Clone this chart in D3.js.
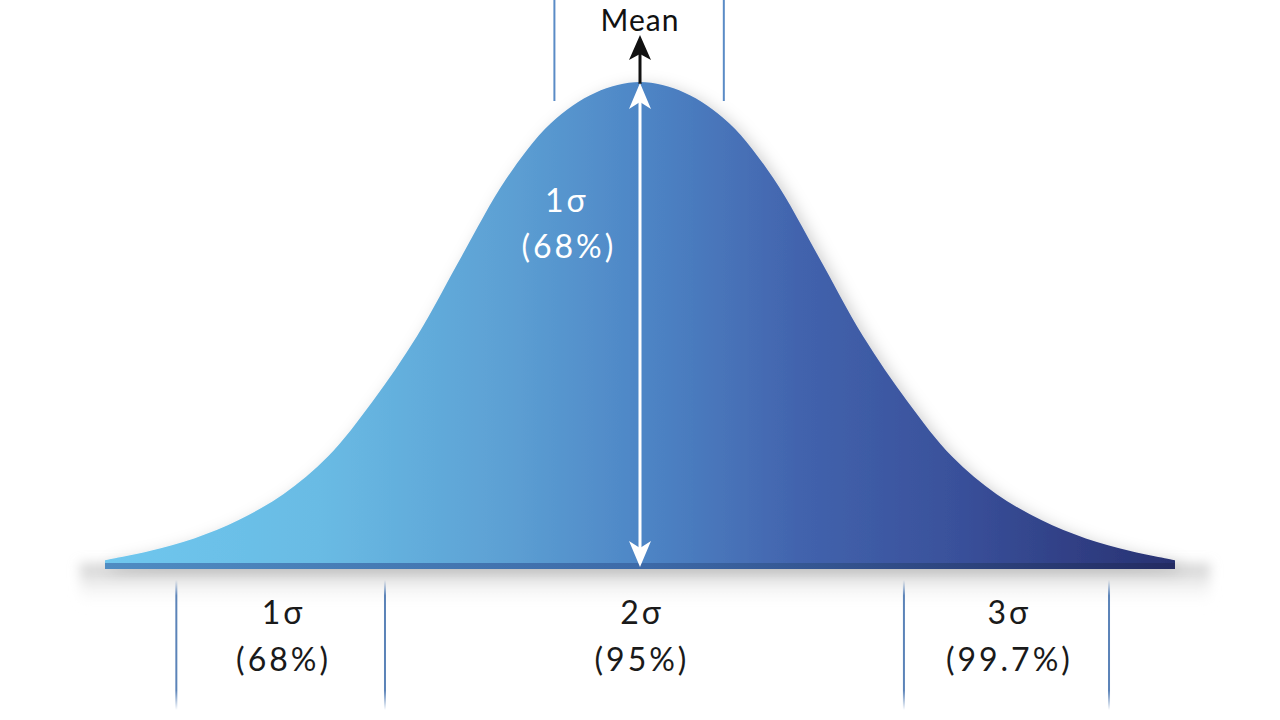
<!DOCTYPE html>
<html>
  <head>
    <title>Normal distribution</title>
    <style>
      body {
        margin: 0;
        padding: 0;
        overflow: hidden;
        width: 1280px;
        height: 720px;
        background: #fff;
      }
      svg {
        display: block;
      }
      text {
        font-family: 'Lato', 'Open Sans', sans-serif;
      }
    </style>
    <script src="https://cdn.jsdelivr.net/npm/d3@7/dist/d3.min.js"></script>
  </head>
  <body>
    <svg width="1280" height="720"></svg>
    <script>
      // Curve samples (x in sigma units, height relative to peak)
      const sigmaX = [-3, -2.75, -2.5, -2.25, -2, -1.75, -1.5, -1.25, -1, -0.75, -0.5, -0.25,
        0, 0.25, 0.5, 0.75, 1, 1.25, 1.5, 1.75, 2, 2.25, 2.5, 2.75, 3];
      const density = [0.012, 0.031, 0.057, 0.095, 0.148, 0.226, 0.34, 0.475, 0.64, 0.8, 0.915, 0.978,
        1, 0.978, 0.915, 0.8, 0.64, 0.475, 0.34, 0.226, 0.148, 0.095, 0.057, 0.031, 0.012];

      // Marker positions (sigma units)
      const meanMarks = [-0.48, 0.47];
      const bandEdges = [-2.6, -1.43, 1.48, 2.63];

      // Labels
      const bottomNames = ['1σ', '2σ', '3σ'];
      const bottomPcts = ['(68%)', '(95%)', '(99.7%)'];
      const bottomPos = [-2.01, 0, 2.06];
      const innerName = '1σ';
      const innerPct = '(68%)';
      const innerPos = -0.41;
      const meanLabel = 'Mean';

      const svg = d3.select('svg');
      const x = d3.scaleLinear().domain([-3, 3]).range([105, 1175]);
      const y = d3.scaleLinear().domain([0, 1]).range([566, 82]);

      const defs = svg.append('defs');

      // Colour ramp: light sky blue to navy
      const grad = defs.append('linearGradient')
        .attr('id', 'fillGrad')
        .attr('gradientUnits', 'userSpaceOnUse')
        .attr('x1', x(-3)).attr('x2', x(3)).attr('y1', 0).attr('y2', 0);
      [[0, '#6fc7ee'], [0.2, '#69bbe4'], [0.38, '#5c9fd3'], [0.5, '#4e86c6'],
       [0.65, '#4263ad'], [0.8, '#39509a'], [0.92, '#2f3d82'], [1, '#283271']]
        .forEach(([o, c]) => grad.append('stop').attr('offset', o).attr('stop-color', c));

      const gradBase = defs.append('linearGradient')
        .attr('id', 'baseGrad')
        .attr('gradientUnits', 'userSpaceOnUse')
        .attr('x1', x(-3)).attr('x2', x(3)).attr('y1', 0).attr('y2', 0);
      [[0, '#4f8cc2'], [0.5, '#3d6aa8'], [1, '#232b62']]
        .forEach(([o, c]) => gradBase.append('stop').attr('offset', o).attr('stop-color', c));

      // Soft shadow under the baseline
      const shadowGrad = defs.append('linearGradient')
        .attr('id', 'shadowGrad')
        .attr('x1', 0).attr('x2', 0).attr('y1', 0).attr('y2', 1);
      shadowGrad.append('stop').attr('offset', 0).attr('stop-color', '#c4c4c4').attr('stop-opacity', 0.9);
      shadowGrad.append('stop').attr('offset', 0.4).attr('stop-color', '#dedede').attr('stop-opacity', 0.6);
      shadowGrad.append('stop').attr('offset', 1).attr('stop-color', '#ffffff').attr('stop-opacity', 0);

      const shadow = defs.append('filter').attr('id', 'shadow')
        .attr('x', '-10%').attr('y', '-10%').attr('width', '120%').attr('height', '130%');
      shadow.append('feDropShadow')
        .attr('dx', 5).attr('dy', 4).attr('stdDeviation', 8)
        .attr('flood-color', '#000').attr('flood-opacity', 0.2);

      const blur = defs.append('filter').attr('id', 'blur')
        .attr('x', '-10%').attr('y', '-50%').attr('width', '120%').attr('height', '200%');
      blur.append('feGaussianBlur').attr('stdDeviation', 6);

      // Fading marker lines
      const lineFade = defs.append('linearGradient')
        .attr('id', 'lineFade')
        .attr('x1', 0).attr('x2', 0).attr('y1', 0).attr('y2', 1);
      [[0, 0], [0.12, 1], [0.85, 1], [1, 0]].forEach(([o, a]) =>
        lineFade.append('stop').attr('offset', o).attr('stop-color', '#5b83b8').attr('stop-opacity', a));

      // Shadow band below baseline
      svg.append('rect')
        .attr('x', x(-3) - 25)
        .attr('y', 564)
        .attr('width', x(3) - x(-3) + 60)
        .attr('height', 44)
        .attr('fill', 'url(#shadowGrad)')
        .attr('filter', 'url(#blur)');

      // Mean marker lines at top
      svg.selectAll('line.mean')
        .data(meanMarks)
        .enter()
        .append('line')
        .attr('class', 'mean')
        .attr('x1', (d) => x(d)).attr('x2', (d) => x(d))
        .attr('y1', 0).attr('y2', 101)
        .attr('stroke', '#5a8bc6')
        .attr('stroke-width', 2);

      // Bell curve
      const pts = sigmaX.map((s, i) => [s, density[i]]);
      const area = d3.area()
        .x((d) => x(d[0]))
        .y0(y(0))
        .y1((d) => y(d[1]))
        .curve(d3.curveCatmullRom.alpha(0.5));

      svg.append('path')
        .datum(pts)
        .attr('d', area)
        .attr('fill', 'url(#fillGrad)')
        .attr('filter', 'url(#shadow)');

      // Baseline strip
      svg.append('rect')
        .attr('x', x(-3))
        .attr('y', y(0) - 3)
        .attr('width', x(3) - x(-3))
        .attr('height', 6)
        .attr('fill', 'url(#baseGrad)');

      // Black arrow pointing to "Mean"
      svg.append('line')
        .attr('x1', x(0)).attr('x2', x(0))
        .attr('y1', y(1) + 2).attr('y2', 52)
        .attr('stroke', '#111').attr('stroke-width', 3);
      svg.append('path')
        .attr('d', d3.line()([[x(0), 35], [x(0) + 11, 60], [x(0), 54], [x(0) - 11, 60]]))
        .attr('fill', '#111');

      // White double arrow from peak to baseline
      svg.append('line')
        .attr('x1', x(0)).attr('x2', x(0))
        .attr('y1', y(1) + 12).attr('y2', y(0) - 12)
        .attr('stroke', '#fff').attr('stroke-width', 3);
      svg.append('path')
        .attr('d', d3.line()([[x(0), y(1) + 1], [x(0) + 11, y(1) + 27], [x(0), y(1) + 20], [x(0) - 11, y(1) + 27]]))
        .attr('fill', '#fff');
      svg.append('path')
        .attr('d', d3.line()([[x(0), y(0) + 1], [x(0) + 11, y(0) - 25], [x(0), y(0) - 18], [x(0) - 11, y(0) - 25]]))
        .attr('fill', '#fff');

      // Mean label, kept just inside the top edge
      svg.append('text')
        .attr('x', x(0))
        .attr('y', 31)
        .attr('text-anchor', 'middle')
        .attr('font-size', 30)
        .attr('fill', '#111')
        .attr('letter-spacing', 1)
        .text(meanLabel);

      // Label inside curve
      const inner = svg.append('text')
        .attr('text-anchor', 'middle')
        .attr('font-size', 32)
        .attr('fill', '#fff')
        .attr('letter-spacing', 3);
      inner.append('tspan').attr('x', x(innerPos)).attr('y', 212).text(innerName);
      inner.append('tspan').attr('x', x(innerPos) + 2).attr('y', 258).text(innerPct);

      // Band edge lines below the baseline
      svg.selectAll('rect.edge')
        .data(bandEdges)
        .enter()
        .append('rect')
        .attr('class', 'edge')
        .attr('x', (d) => x(d) - 1)
        .attr('y', 580)
        .attr('width', 2)
        .attr('height', 130)
        .attr('fill', 'url(#lineFade)');

      // Bottom labels
      const bottom = svg.selectAll('text.bottom')
        .data(bottomPos)
        .enter()
        .append('text')
        .attr('class', 'bottom')
        .attr('text-anchor', 'middle')
        .attr('font-size', 32)
        .attr('fill', '#1a1a1a')
        .attr('letter-spacing', 3);
      bottom.append('tspan')
        .attr('x', (d) => x(d) + 2)
        .attr('y', 624)
        .text((d, i) => bottomNames[i]);
      bottom.append('tspan')
        .attr('x', (d) => x(d) + 2)
        .attr('y', 671)
        .text((d, i) => bottomPcts[i]);
    </script>
  </body>
</html>
